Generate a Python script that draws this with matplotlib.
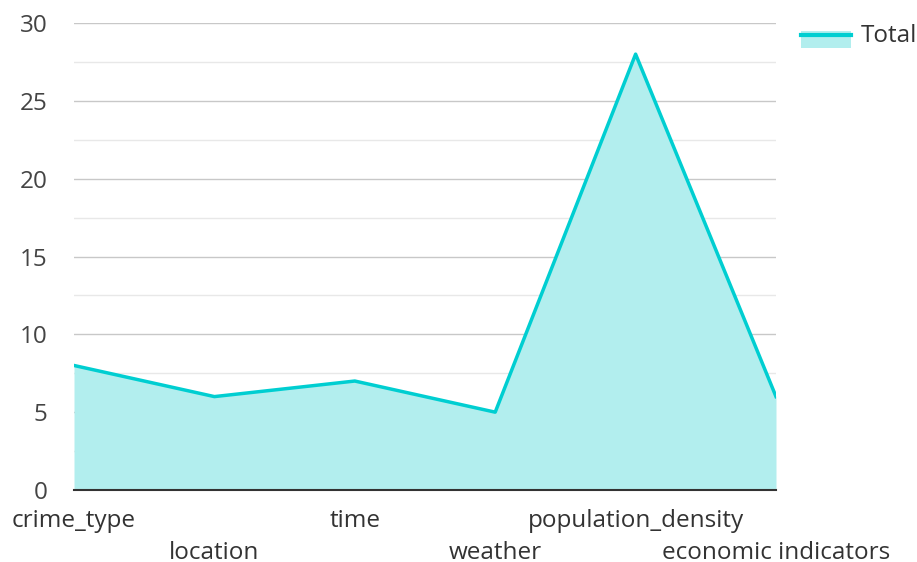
import matplotlib.pyplot as plt
from matplotlib.ticker import MultipleLocator

plt.rcParams['font.family'] = ['Open Sans', 'DejaVu Sans']

categories = ["crime_type", "location", "time", "weather",
              "population_density", "economic indicators"]
totals = [8, 6, 7, 5, 28, 6]

line_color = "#00CED1"
fill_color = "#B2EEEE"

W, H = 917, 562
fig = plt.figure(figsize=(W / 100, H / 100), dpi=100)
ax = fig.add_axes([74 / W, 72 / H, 702 / W, 467 / H])

x = list(range(len(categories)))
ax.fill_between(x, totals, 0, color=fill_color, linewidth=0, zorder=2)
ax.plot(x, totals, color=line_color, linewidth=2.5, zorder=3)

ax.set_xlim(0, len(categories) - 1)
ax.set_ylim(0, 30)
ax.yaxis.set_major_locator(MultipleLocator(5))
ax.yaxis.set_minor_locator(MultipleLocator(2.5))
ax.grid(axis="y", which="major", color="#c8c8c8", linewidth=1, zorder=1)
ax.grid(axis="y", which="minor", color="#e8e8e8", linewidth=1, zorder=1)

for s in ["top", "right", "left"]:
    ax.spines[s].set_visible(False)
ax.spines["bottom"].set_color("#333333")
ax.spines["bottom"].set_linewidth(1.5)
ax.spines["bottom"].set_zorder(4)

# staggered labels
labels = [c if i % 2 == 0 else "\n" + c for i, c in enumerate(categories)]
ax.set_xticks(x)
ax.set_xticklabels(labels, fontsize=17.5, color="#333333", linespacing=1.4)
ax.tick_params(axis="x", length=0, pad=14)
ax.tick_params(axis="y", which="both", length=0, labelsize=17.5,
               labelcolor="#444444", pad=19)

# legend drawn by hand: filled patch with the line on its top edge
fig.add_artist(plt.Rectangle((801 / W, 1 - 48 / H), 50 / W, 17 / H,
                             facecolor=fill_color, edgecolor="none",
                             transform=fig.transFigure))
fig.add_artist(plt.Line2D([801 / W, 851 / W], [1 - 35 / H, 1 - 35 / H],
                          color=line_color, linewidth=3,
                          transform=fig.transFigure))
fig.text(861 / W, 1 - 36 / H, "Total", fontsize=17.5, color="#333333",
         va="center", ha="left")

fig.savefig("out.png", dpi=100)
